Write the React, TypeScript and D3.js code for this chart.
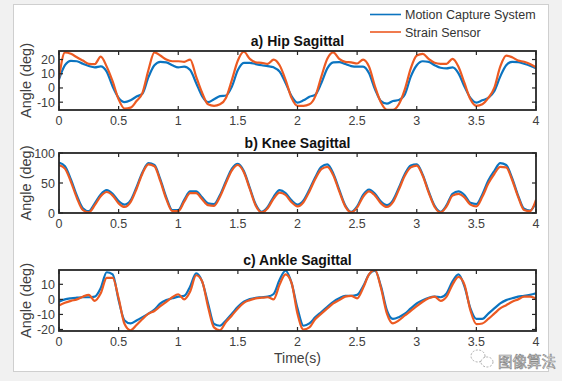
import * as d3 from "d3";

// sampling grid of the recorded gait trials (s)
const timeSec = d3.range(81).map((i) => i * 0.05);
const xTicks = [0, 0.5, 1, 1.5, 2, 2.5, 3, 3.5, 4];

const seriesNames = ["Motion Capture System", "Strain Sensor"];
const seriesColors = ["#0b74c0", "#ec5a22"];

const panelTitles = ["a) Hip Sagittal", "b) Knee Sagittal", "c) Ankle Sagittal"];

const hipTicks = [-10, 0, 10, 20];
const kneeTicks = [0, 50, 100];
const ankleTicks = [-20, -10, 0, 10];

const hipMocap = [
  6, 16, 19, 18.8, 17, 15.4, 14.5, 15.2, 11.5, 1, -7, -10, -8.7, -6, -4, 7.6, 16, 18.4, 18, 16,
  14.5, 15, 12.6, 3.5, -5.7, -10, -8, -5.7, -5.3, 1, 12.6, 17.7, 17.7, 16.8, 16, 15.4, 14.5, 11.5,
  3.5, -5.7, -10.3, -8.7, -6.2, -4.6, 3.5, 13.8, 18, 18.2, 16.8, 15.4, 15, 15, 10.3, -1, -9.2, -11,
  -9.2, -8.5, -4.6, 8, 16, 18.8, 18.4, 16, 14.2, 13.8, 14.5, 10.3, 1, -7, -10.3, -8.7, -7, -2.3, 8,
  16, 18.4, 18.2, 17, 15.6, 13.8,
];
const hipStrain = [
  7, 25, 24, 21.6, 19.3, 17, 16.8, 22, 15, 4.6, -8, -14.5, -13.8, -9.2, -3.4, 12.6, 25, 22.8, 20,
  18.8, 18.8, 18.4, 20, 8, -3.4, -11.5, -12.6, -11.5, -7, 5.7, 19.3, 25.5, 20.5, 18, 17.7, 17, 20,
  16, 5.7, -7, -12.6, -12.6, -11.5, -5.7, 8, 20.5, 25, 20.5, 18.4, 18, 17.2, 20, 15, 1, -10.3, -15.4,
  -15.4, -11.5, -1, 13.8, 22.8, 24, 20.5, 17.7, 17, 17, 20.5, 15, 3.5, -8, -12.6, -11.5, -7, 0, 15,
  22.8, 21.6, 19.3, 18.4, 16.8, 14.5,
];

const kneeMocap = [
  84, 78, 56, 29, 8, 3, 16, 31, 38, 32, 20, 14, 21, 43, 68, 83, 80, 56, 26, 5, 5, 22, 36, 36, 26,
  16, 15, 30, 53, 74, 82, 70, 42, 14, 2, 10, 27, 38, 33, 21, 14, 21, 39, 60, 77, 81, 66, 39, 13, 2,
  11, 30, 39, 32, 19, 13, 21, 42, 65, 79, 81, 64, 36, 12, 2, 13, 32, 36, 30, 17, 15, 31, 54, 70, 83,
  80, 58, 29, 7, 4, 18,
];
const kneeStrain = [
  80, 74, 52, 25, 5, 1, 13, 28, 35, 29, 16, 10, 18, 40, 66, 81, 78, 53, 23, 3, 3, 19, 33, 33, 23,
  13, 12, 27, 50, 71, 80, 68, 40, 12, 1, 8, 24, 34, 30, 18, 11, 18, 36, 57, 73, 77, 63, 36, 11, 1,
  9, 27, 36, 29, 16, 10, 18, 39, 62, 76, 79, 62, 34, 10, 1, 11, 29, 32, 26, 14, 11, 27, 49, 65, 77,
  76, 55, 27, 5, 3, 22,
];

const ankleMocap = [
  -1.5, 0, 0.7, 1.1, 1.4, 1.4, 1.8, 7.5, 18, 16.6, -0.5, -14, -16, -14, -11.8, -9.5, -6.8, -2.7,
  -0.5, 0.7, 1.8, 2.3, 8.6, 17.3, 12, -2.7, -16.4, -17.5, -14, -9.5, -5, -1.6, 0.2, 1.1, 1.4, 1.8,
  3.6, 13, 19, 11, -6, -17.5, -16, -11.8, -8.4, -5, -1.6, 0.7, 2.3, 2.3, 3, 8.6, 16.6, 19, 8.6, -7.3,
  -13, -11.8, -9.5, -6, -2.7, -0.5, 1.1, 1.8, 1.4, 4, 12, 16.6, 8.6, -6, -13, -13, -9.5, -6, -2.7,
  -0.5, 0.7, 1.8, 2.3, 3, 4,
];
const ankleStrain = [
  -4, -2.3, -1, 0, 1.8, 3, -1, 4, 14.3, 14.3, 0.7, -16.4, -20.5, -17, -13, -9.5, -7.7, -4.5, -1.6,
  1.4, 3.4, 0, 5.2, 16, 12, -5, -18.6, -20.5, -15, -10.7, -6, -2.3, -0.5, 0.7, 1.1, 1.4, 0, 9.8,
  16.6, 11, -9.5, -20, -18.6, -13, -9.5, -6, -2.7, -0.5, 1.8, 2.3, 0.7, 7.5, 16.6, 19.5, 7.5, -9.5,
  -16, -14, -10.7, -7.7, -4.5, -1.6, 0.7, 1.8, -1, 1.8, 9.8, 15, 9.8, -7.3, -16.4, -16, -13, -9.5,
  -6, -3.9, -1.6, 0, 1.8, 1.8, 0.7,
];

const W = 562;
const H = 381;
const plotLeft = 59;
const plotRight = 536;
const font = "'Liberation Sans', Arial, Helvetica, sans-serif";
const ink = "#262626";

const panels = [
  { title: panelTitles[0], top: 51, bottom: 110, domain: [-15.5, 26], ticks: hipTicks, data: [hipMocap, hipStrain] },
  { title: panelTitles[1], top: 153, bottom: 213, domain: [0, 100], ticks: kneeTicks, data: [kneeMocap, kneeStrain] },
  { title: panelTitles[2], top: 270, bottom: 331, domain: [-21, 19.5], ticks: ankleTicks, data: [ankleMocap, ankleStrain] },
];

const x = d3.scaleLinear().domain([0, 4]).range([plotLeft, plotRight]);

function Panel({ p, idx }: { p: (typeof panels)[number]; idx: number }) {
  const y = d3.scaleLinear().domain(p.domain).range([p.bottom, p.top]);
  const line = d3
    .line<number>()
    .x((_, i) => x(timeSec[i]))
    .y((d) => y(d))
    .curve(d3.curveMonotoneX);
  const clipId = `clip-${idx}`;
  const tickLen = 4;
  return (
    <g>
      <defs>
        <clipPath id={clipId}>
          <rect x={plotLeft} y={p.top} width={plotRight - plotLeft} height={p.bottom - p.top} />
        </clipPath>
      </defs>
      <rect x={plotLeft} y={p.top} width={plotRight - plotLeft} height={p.bottom - p.top} fill="#fff" />
      <g clipPath={`url(#${clipId})`}>
        {p.data.map((vals, k) => (
          <path key={k} d={line(vals) ?? ""} fill="none" stroke={seriesColors[k]} strokeWidth={2.2} strokeLinejoin="round" />
        ))}
      </g>
      {/* ticks inside, on all four sides */}
      {xTicks.map((t) => (
        <g key={t}>
          <line x1={x(t)} x2={x(t)} y1={p.bottom} y2={p.bottom - tickLen} stroke={ink} strokeWidth={1.2} />
          <line x1={x(t)} x2={x(t)} y1={p.top} y2={p.top + tickLen} stroke={ink} strokeWidth={1.2} />
          <text x={x(t)} y={p.bottom + 15} textAnchor="middle" fontSize={12.5} fill="#404040" fontFamily={font}>
            {t}
          </text>
        </g>
      ))}
      {p.ticks.map((t) => (
        <g key={t}>
          <line x1={plotLeft} x2={plotLeft + tickLen} y1={y(t)} y2={y(t)} stroke={ink} strokeWidth={1.2} />
          <line x1={plotRight} x2={plotRight - tickLen} y1={y(t)} y2={y(t)} stroke={ink} strokeWidth={1.2} />
          <text x={plotLeft - 4} y={y(t) + 4.5} textAnchor="end" fontSize={12.5} fill="#404040" fontFamily={font}>
            {t}
          </text>
        </g>
      ))}
      <rect x={plotLeft} y={p.top} width={plotRight - plotLeft} height={p.bottom - p.top} fill="none" stroke={ink} strokeWidth={1.8} />
      <text x={(plotLeft + plotRight) / 2} y={p.top - 5} textAnchor="middle" fontSize={14} fontWeight="bold" fill="#111" fontFamily={font}>
        {p.title}
      </text>
      <text
        transform={`translate(31,${(p.top + p.bottom) / 2}) rotate(-90)`}
        textAnchor="middle"
        fontSize={14.5}
        fill="#404040"
        fontFamily={font}
      >
        Angle (deg)
      </text>
    </g>
  );
}

export default function App() {
  return (
    <svg width={W} height={H} style={{ position: "absolute", left: 0, top: 0, background: "#f1f1f1" }}>
      <rect x={13.5} y={4.5} width={535} height={367} fill="#fff" stroke="#cfcfcf" />
      {panels.map((p, i) => (
        <Panel key={i} p={p} idx={i} />
      ))}
      <text x={(plotLeft + plotRight) / 2} y={363} textAnchor="middle" fontSize={14} fill="#404040" fontFamily={font}>
        Time(s)
      </text>
      {/* legend */}
      {seriesNames.map((name, i) => (
        <g key={name} transform={`translate(0,${14.5 + i * 17.5})`}>
          <line x1={370} x2={401} y1={0} y2={0} stroke={seriesColors[i]} strokeWidth={1.6} />
          <text x={405} y={4.5} fontSize={12.5} fill="#333" fontFamily={font}>
            {name}
          </text>
        </g>
      ))}
      {/* watermark */}
      <g stroke="#9a9a9a" fill="none" strokeWidth={0.8} strokeDasharray="2 1.5">
        <ellipse cx={478} cy={356} rx={7} ry={6} />
        <ellipse cx={487} cy={362} rx={6} ry={5} fill="#fff" />
      </g>
      <text x={498} y={367} fontSize={14.5} fill="#fff" stroke="#8a8a8a" strokeWidth={0.7} fontFamily="'Noto Sans CJK SC', sans-serif">
        图像算法
      </text>
    </svg>
  );
}
